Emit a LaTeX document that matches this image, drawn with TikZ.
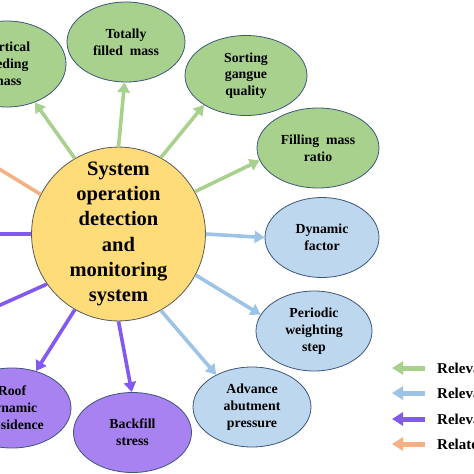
\documentclass[tikz,border=0pt]{standalone}
\usepackage{fontspec}
\setmainfont{Liberation Serif}
\usetikzlibrary{shapes.geometric,arrows.meta}
\definecolor{gfill}{RGB}{169,209,142}
\definecolor{bfill}{RGB}{189,215,238}
\definecolor{pfill}{RGB}{168,130,240}
\definecolor{yfill}{RGB}{255,220,122}
\definecolor{garr}{RGB}{169,209,142}
\definecolor{barr}{RGB}{157,195,230}
\definecolor{parr}{RGB}{130,90,240}
\definecolor{oarr}{RGB}{244,177,131}
\definecolor{edgec}{RGB}{60,85,120}
\begin{document}
\begin{tikzpicture}[x=1pt,y=-1pt,
  ell/.style={ellipse, draw=edgec, line width=0.8pt, minimum width=118pt,
    minimum height=80pt, inner sep=0pt, align=center,
    font=\bfseries\fontsize{13.8}{16.8}\selectfont},
  gell/.style={ell, fill=gfill},
  bell/.style={ell, fill=bfill},
  pell/.style={ell, fill=pfill},
  hub/.style={circle, draw=black!65, line width=0.8pt, fill=yfill,
    minimum size=173pt, inner sep=0pt, align=center,
    font=\bfseries\fontsize{20.5}{25.2}\selectfont},
  conn/.style={line width=3.6pt, -{Triangle[width=12pt,length=10pt]}},
  legarrow/.style={line width=5pt, -{Triangle[width=13pt,length=11pt]}},
  legtext/.style={anchor=west, inner sep=0pt, font=\bfseries\fontsize{15}{17}\selectfont}
]
\useasboundingbox (0,0) rectangle (474,474);
\clip (0,0) rectangle (474,474);

% hub
\node[hub] (c) at (118.5,234) {System\\operation\\detection\\and\\monitoring\\system};

% green
\node[gell, minimum height=86pt] (vf) at (7,64) {Vertical\\feeding\\mass};
\node[gell] (tf) at (126,42) {Totally\\filled\ \ mass};
\node[gell, minimum width=122pt] (sg) at (246,75.5) {Sorting\\gangue\\quality};
\node[gell, minimum width=122pt] (fm) at (318,148) {Filling\ \ mass\\ratio};

% blue
\node[bell, minimum width=114pt] (df) at (322,237.5) {Dynamic\\factor};
\node[bell, minimum width=116pt] (pw) at (314,331) {Periodic\\weighting\\step};
\node[bell] (aa) at (252,407) {Advance\\abutment\\pressure};

% purple
\node[pell] (bs) at (132.5,432.5) {Backfill\\stress};
\node[pell] (rd) at (12,408) {Roof\\dynamic\\subsidence};

% off-picture ends
\coordinate (offA) at (-40,145);
\coordinate (offB) at (-40,234);
\coordinate (offC) at (-40,323);

% connectors
\draw[conn, garr] (c.120.6) -- (vf.-54);
\draw[conn, garr] (c.90) -- (tf.-92);
\draw[conn, garr] (c.61.5) -- (sg.-145.7);
\draw[conn, garr] (c.29) -- (fm.192.7);
\draw[conn, barr] (c.-0.6) -- (df.180);
\draw[conn, barr] (c.-28.6) -- (pw.163);
\draw[conn, barr] (c.-61.7) -- (aa.138);
\draw[conn, parr] (c.-90) -- (bs.91.4);
\draw[conn, parr] (c.-120.5) -- (rd.57.6);
\draw[line width=3.6pt, parr] (c.-145) -- (offC);
\draw[line width=3.6pt, parr] (c.180) -- (offB);
\draw[line width=3.6pt, oarr] (c.153) -- (offA);

% legend
\coordinate (l1a) at (425,368); \coordinate (l1b) at (392,368);
\coordinate (l2a) at (425,393); \coordinate (l2b) at (392,393);
\coordinate (l3a) at (425,419); \coordinate (l3b) at (392,419);
\coordinate (l4a) at (425,444); \coordinate (l4b) at (392,444);
\draw[legarrow, garr] (l1a) -- (l1b);
\draw[legarrow, barr] (l2a) -- (l2b);
\draw[legarrow, parr] (l3a) -- (l3b);
\draw[legarrow, oarr] (l4a) -- (l4b);
\node[legtext] (t1) at (437,368) {Relevant};
\node[legtext] (t2) at (437,393) {Relevant};
\node[legtext] (t3) at (437,419) {Relevant};
\node[legtext] (t4) at (437,444) {Related};
\end{tikzpicture}
\end{document}
